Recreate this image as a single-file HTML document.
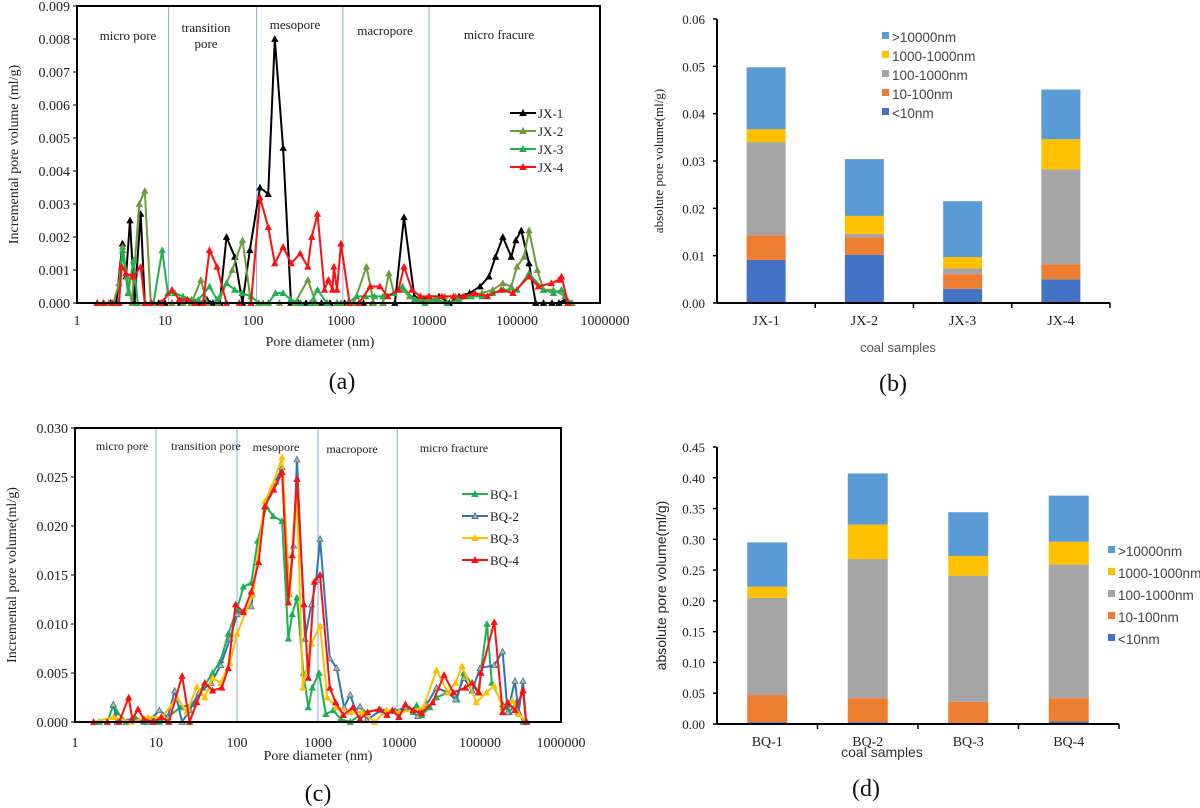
<!DOCTYPE html>
<html><head><meta charset="utf-8"><style>
html,body{margin:0;padding:0;background:#fff;}
svg{display:block;}
.serif{font-family:"Liberation Serif",serif;}
.sans{font-family:"Liberation Sans",sans-serif;}
</style></head><body>
<svg id="fig" width="1200" height="808" viewBox="0 0 1200 808" xmlns="http://www.w3.org/2000/svg"></svg>
<script>
// ---------- panel (a) data ----------
const jx1X=[1.7,2,2.4,2.8,3.28,3.6,4.0,4.5,5.3,5.9,7,8.5,10,12,15,20,24,30,35,42,50,62,76,92,120,149,177,220,270,330,400,500,600,750,900,1100,1400,1800,2300,3000,4100,5200,6800,8500,10000,13000,17000,22000,29000,38000,48000,57000,69000,86000,97000,112000,137000,163000,200000,250000,300000,350000,420000];
const jx1Y=[0,0,0,0,.0018,.0008,.0025,0,.0027,0,0,0,0,0,0,0,0,.0001,0,0,.002,.0014,0,.0016,.0035,.0033,.008,.0047,0,0,0,0,0,0,0,0,0,0,0,0,0,.0026,.0002,.0001,.0002,.0002,0,.0002,.0003,.0005,.0008,.0014,.002,.0014,.0019,.0022,.0012,0,0,0,0,.0001,0];
const jx2X=[1.7,2,2.3,2.6,3.0,3.3,3.7,4.2,5.1,5.9,6.9,9,12,16,20,25.6,30,40,58,76,95,130,200,300,420,520,700,1000,1400,1950,2350,3000,3500,4000,5000,6000,8000,10000,15000,20000,30000,40000,53000,69000,86000,100000,120000,137000,170000,200000,260000,350000,420000];
const jx2Y=[0,0,0,0,.0006,.0017,.0008,0,.003,.0034,0,0,0,0,0,.0007,0,0,.001,.0019,0,0,0,0,.0007,0,0,0,0,.0011,0,0,.0009,.0003,.0004,.0002,.0001,.0001,.0002,.0002,.0002,.0003,.0004,.0006,.0005,.0011,.0014,.0022,.001,.0004,.0004,.0002,0];
const jx3X=[1.7,2,2.5,3.0,3.3,3.8,4.4,4.9,6,7.4,9.3,10.8,13,16,20,24,32,39,50,62,75,95,116,150,180,220,268,350,450,540,690,900,1200,1500,1900,2400,3000,4000,5000,6800,9000,12000,16000,22000,30000,40000,53000,70000,100000,137000,200000,260000,320000,380000];
const jx3Y=[0,0,0,0,.0016,.0003,.0013,0,0,0,.0016,.0003,.0003,.0002,.0001,.0001,.0005,.0001,.0006,.0004,.0003,.0002,0,0,.0003,.0003,.0001,0,0,.0004,0,0,0,.0002,.0002,.0002,.0002,.0003,.0005,.0001,0,.0001,0,.0001,.0002,.0002,.0003,.0004,.0004,.0009,.0004,.0003,.0004,0];
const jx4X=[1.7,2,2.5,3.0,3.2,3.6,4.4,5.3,5.9,7,9,12,14.5,18,22,27,32,39,50,70,95,120,149,177,220,272,344,420,465,540,650,720,800,830,900,1000,1250,1600,2150,2770,3400,4500,5200,6400,8000,10000,14000,19000,25000,33000,46000,66000,90000,137000,175000,245000,300000,320000,380000];
const jx4Y=[0,0,0,0,.0011,.0009,.0008,.0011,0,0,0,.0004,.0001,.0001,0,0,.0016,.0011,0,0,0,.0032,.0023,.0012,.0017,.0012,.0015,.0011,.002,.0027,.0004,.0007,.0004,.0011,.0004,.0018,0,0,.0005,.0005,.0002,.0004,.0011,.0004,.0002,.0002,.0002,.0002,.0002,.0003,.0002,.0004,.0003,.0008,.0005,.0006,.0007,.0008,0];
const aYTicks=["0.000","0.001","0.002","0.003","0.004","0.005","0.006","0.007","0.008","0.009"];
const logTicks=["1","10","100","1000","10000","100000","1000000"];

// ---------- panel (c) data ----------
const bq1X=[1.7,2,2.5,2.97,3.3,4.3,5.5,7,9.3,11,14,20,28,38,50,63,78,100,120,150,180,230,280,360,430,480,550,660,760,850,1030,1250,1540,1900,2500,3700,5700,8800,10000,12000,15000,16500,19000,24000,29000,40000,52000,63000,95000,122000,140000,190000,230000,280000,340000,380000];
const bq1Y=[0,0,0,.0017,.001,0,.0005,0,.0003,0,.0005,.0015,.0018,.0035,.005,.0063,.009,.0115,.0138,.0142,.0185,.022,.021,.0205,.0085,.011,.0127,.005,.0015,.0035,.005,.0008,.0012,.0003,0,.001,.0013,.0011,.0005,.0018,.001,.0017,.0007,.0015,.0025,.003,.0023,.005,.003,.01,.004,.0018,.001,.002,0,0];
const bq2X=[2.97,3.3,5,8,11,14,17,21,26,34,48,63,82,100,150,220,300,360,445,500,550,690,830,950,1060,1400,1700,2100,2500,2900,3300,4000,6000,9000,12000,17000,22000,29000,40000,50000,63000,80000,100000,150000,190000,220000,270000,300000,340000,370000];
const bq2Y=[.0018,0,.0003,0,.0012,.0005,.0032,0,.0012,.003,.004,.0058,.0085,.011,.0118,.022,.0245,.026,.013,.018,.0268,.0085,.012,.0145,.0187,.0065,.0055,.0015,.0028,.0012,.0016,.0002,.0012,.0011,.0015,.0006,.0018,.0035,.003,.0023,.0045,.0032,.0055,.0058,.0072,.001,.0042,.001,.0042,0];
const bq3X=[1.7,3,5,8,12,18,24,32,40,50,63,82,100,157,220,270,360,445,550,650,830,1060,1300,1700,2500,3500,5000,7000,10000,15000,20000,29000,40000,50000,60000,90000,120000,150000,190000,250000,300000,370000];
const bq3Y=[0,.0005,0,.0005,.0005,.0025,.001,.0036,.0025,.0045,.004,.006,.009,.013,.0225,.024,.027,.013,.023,.0035,.008,.0098,.0025,.0015,.001,.001,0,.0012,.001,.0012,.0015,.0053,.003,.004,.0057,.002,.003,.0037,.0015,.0022,.0008,0];
const bq4X=[1.7,2.5,3.5,4.6,5.1,6,7.1,9.3,11.6,14.4,21,26,32,40,50,65,78,96,120,150,185,220,285,360,430,480,550,670,760,900,1060,1400,1650,2050,2700,3300,4100,5700,7100,8300,10000,12000,15000,19000,26000,36000,47000,66000,80000,97000,103000,150000,190000,220000,270000,340000,370000];
const bq4Y=[0,0,0,.0025,.0003,.0013,.0003,0,.0005,0,.0047,0,.002,.004,.0032,.0035,.0055,.012,.0112,.0133,.0163,.022,.0237,.0255,.0122,.017,.0248,.012,.0045,.0143,.015,.0035,.002,.0007,.0015,.0003,.001,.0013,.0007,.0012,.0005,.0018,.0012,.0009,.002,.0048,.003,.0035,.004,.003,.005,.0102,.001,.002,.0012,.0032,0];
const cYTicks=["0.000","0.005","0.010","0.015","0.020","0.025","0.030"];

// ---------- panel (b) data ----------
const bCats=["JX-1","JX-2","JX-3","JX-4"];
const bLt10=[.0091,.0102,.003,.005];
const b10to100=[.0052,.0037,.0031,.0032];
const b100to1000=[.0197,.0007,.0012,.02];
const b1000to10000=[.0027,.0038,.0024,.0064];
const bGt10000=[.0131,.012,.0118,.0105];
const bYTicks=["0.00","0.01","0.02","0.03","0.04","0.05","0.06"];

// ---------- panel (d) data ----------
const dCats=["BQ-1","BQ-2","BQ-3","BQ-4"];
const dLt10=[.003,.003,.001,.004];
const d10to100=[.044,.039,.035,.038];
const d100to1000=[.158,.226,.205,.217];
const d1000to10000=[.018,.056,.032,.037];
const dGt10000=[.072,.083,.071,.075];
const dYTicks=["0.00","0.05","0.10","0.15","0.20","0.25","0.30","0.35","0.40","0.45"];

const segNames=["<10nm","10-100nm","100-1000nm","1000-1000nm",">10000nm"];
const segColors=["#4472c4","#ed7d31","#a5a5a5","#ffc000","#5b9bd5"];

const svg=document.getElementById('fig');
const NS="http://www.w3.org/2000/svg";
function mk(tag,attrs,parent){const e=document.createElementNS(NS,tag);for(const k in attrs)e.setAttribute(k,attrs[k]);(parent||svg).appendChild(e);return e;}
function txt(s,attrs,parent){const e=mk('text',attrs,parent);e.textContent=s;return e;}

function linePanel(cfg){
  const g=mk('g',{});
  
  
  const L=cfg.left,T=cfg.top,R=cfg.right,B=cfg.bottom;
  const xs=d=>L+cfg.dec*Math.log10(d);
  const ys=v=>B-(v/cfg.ymax)*(B-T);
  cfg.bounds.forEach(b=>{
    const l=mk('line',{x1:xs(b),x2:xs(b),y1:T,y2:B,stroke:'#8eaadb','stroke-width':1},g);
    
    
  });
  cfg.regions.forEach(r=>{
    r.lines.forEach((s,i)=>{
      const t=txt(s,{x:r.x,y:r.y+i*16,'text-anchor':'middle','font-size':cfg.regionFs,class:'serif',fill:'#222'},g);
      
      
    });
  });
  cfg.yTicks.forEach((s,i)=>{
    const v=parseFloat(s);
    const t=txt(s,{x:L-7,y:ys(v)+5,'text-anchor':'end','font-size':14,class:'serif',fill:'#222'},g);
    
    
    mk('line',{x1:L-4,x2:L,y1:ys(v),y2:ys(v),stroke:'#000','stroke-width':1},g);
  });
  logTicks.forEach((s,i)=>{
    const t=txt(s,{x:xs(Math.pow(10,i)),y:B+cfg.xlOff,'text-anchor':'middle','font-size':14,class:'serif',fill:'#222'},g);
    
    
  });
  cfg.series.forEach(sr=>{
    const n=Math.min(sr.x.length,sr.y.length);
    let d='';
    for(let i=0;i<n;i++){d+=(i?'L':'M')+xs(sr.x[i]).toFixed(1)+','+ys(sr.y[i]).toFixed(1);}
    const p=mk('path',{d:d,fill:'none',stroke:sr.color,'stroke-width':2,'stroke-linejoin':'round'},g);
    
    
    for(let i=0;i<n;i++){
      const cx=xs(sr.x[i]),cy=ys(sr.y[i]);
      const m=mk('path',{d:`M${cx-3},${cy+2.5}L${cx+3},${cy+2.5}L${cx},${cy-3}Z`,fill:sr.mfill||sr.color,stroke:sr.color,'stroke-width':0.8},g);
      
      
    }
  });
  const f=mk('rect',{x:L,y:T,width:R-L,height:B-T,fill:'none',stroke:'#000','stroke-width':2},g);
  
  
  cfg.series.forEach((sr,i)=>{
    const y=cfg.legY+i*cfg.legDy;
    mk('line',{x1:cfg.legX,x2:cfg.legX+26,y1:y,y2:y,stroke:sr.color,'stroke-width':2},g);
    const cx=cfg.legX+13;
    mk('path',{d:`M${cx-3},${y+2.5}L${cx+3},${y+2.5}L${cx},${y-3}Z`,fill:sr.mfill||sr.color,stroke:sr.color},g);
    const t=txt(sr.label,{x:cfg.legX+28,y:y+5,'font-size':13,class:'serif',fill:'#222'},g);
    
    
  });
  const xt=txt('Pore diameter (nm)',{x:cfg.xtX,y:cfg.xtY,'text-anchor':'middle','font-size':14,class:'serif',fill:'#222'},g);
  
  
  const yt=txt(cfg.ytitle,{x:0,y:0,'text-anchor':'middle','font-size':14,class:'serif',fill:'#222',transform:`translate(${cfg.ytX},${(T+B)/2}) rotate(-90)`},g);
  
  
}

linePanel({name:'chart-a',left:77,top:6,right:600,bottom:303,dec:88,ymax:0.009,yTicks:aYTicks,xlOff:22,
  bounds:[11,110,1050,10000],regionFs:13,
  regions:[{x:128,y:40,lines:['micro pore']},{x:206,y:32,lines:['transition','pore']},{x:295,y:29,lines:['mesopore']},{x:385,y:35,lines:['macropore']},{x:499,y:39,lines:['micro fracure']}],
  series:[{label:'JX-1',x:jx1X,y:jx1Y,color:'#000'},{label:'JX-2',x:jx2X,y:jx2Y,color:'#6f9a3c'},{label:'JX-3',x:jx3X,y:jx3Y,color:'#1fb04f'},{label:'JX-4',x:jx4X,y:jx4Y,color:'#ff1010'}],
  legX:510,legY:113,legDy:18,xtX:320,xtY:346,ytX:18,ytitle:'Incremental  pore volume (ml/g)'});

linePanel({name:'chart-c',left:75,top:428,right:561,bottom:722,dec:81,ymax:0.03,yTicks:cYTicks,xlOff:25,
  bounds:[10,100,1000,9500],regionFs:12,
  regions:[{x:122,y:450,lines:['micro pore']},{x:206,y:450,lines:['transition pore']},{x:276,y:451,lines:['mesopore']},{x:352,y:453,lines:['macropore']},{x:454,y:452,lines:['micro fracture']}],
  series:[{label:'BQ-1',x:bq1X,y:bq1Y,color:'#1fb04f'},{label:'BQ-2',x:bq2X,y:bq2Y,color:'#2e75b6',mfill:'#c9b46a'},{label:'BQ-3',x:bq3X,y:bq3Y,color:'#ffc000'},{label:'BQ-4',x:bq4X,y:bq4Y,color:'#ff1010'}],
  legX:462,legY:494,legDy:22,xtX:318,xtY:760,ytX:16,ytitle:'Incremental  pore volume(ml/g)'});

function barPanel(cfg){
  const g=mk('g',{});
  
  
  const L=cfg.left,R=cfg.right,T=cfg.top,B=cfg.bottom;
  const ys=v=>B-(v/cfg.ymax)*(B-T);
  const cw=(R-L)/cfg.cats.length;
  cfg.cats.forEach((c,i)=>{
    let acc=0;
    const cx=L+cw*(i+0.5);
    cfg.segs.forEach((arr,k)=>{
      const y0=ys(acc),y1=ys(acc+arr[i]);acc+=arr[i];
      const r=mk('rect',{x:cx-cfg.bw/2,y:y1,width:cfg.bw,height:Math.max(0,y0-y1),fill:segColors[k]},g);
      
      
    });
    const t=txt(c,{x:cx,y:B+22,'text-anchor':'middle','font-size':14,class:'serif',fill:'#222'},g);
    
    
    mk('line',{x1:L+cw*(i+1),x2:L+cw*(i+1),y1:B,y2:B+5,stroke:'#000','stroke-width':1.5},g);
  });
  cfg.yTicks.forEach(s=>{
    const v=parseFloat(s);
    mk('line',{x1:L-4,x2:L,y1:ys(v),y2:ys(v),stroke:'#000','stroke-width':1.5},g);
    const t=txt(s,{x:L-12,y:ys(v)+5,'text-anchor':'end','font-size':13,class:'serif',fill:'#222'},g);
    
    
  });
  mk('line',{x1:L,x2:L,y1:T,y2:B,stroke:'#000','stroke-width':2},g);
  mk('line',{x1:L,x2:R,y1:B,y2:B,stroke:'#000','stroke-width':2},g);
  for(let k=4;k>=0;k--){
    const y=cfg.legY+(4-k)*cfg.legDy;
    mk('rect',{x:cfg.legX,y:y-5,width:7,height:7,fill:segColors[k]},g);
    const t=txt(segNames[k],{x:cfg.legX+10,y:y+5,'font-size':13.5,class:'sans',fill:'#444'},g);
    
    
  }
  const xt=txt('coal samples',{x:cfg.xtX,y:cfg.xtY,'text-anchor':'middle','font-size':cfg.xtFs,class:'sans',fill:cfg.xtC},g);
  
  
  const yt=txt('absolute pore volume(ml/g)',{x:0,y:0,'text-anchor':'middle','font-size':cfg.ytFs,class:cfg.ytClass,fill:'#222',transform:`translate(${cfg.ytX},${(T+B)/2}) rotate(-90)`},g);
  
  
}
barPanel({name:'chart-b',left:717,right:1110,top:19,bottom:303,ymax:0.06,cats:bCats,bw:39,
  segs:[bLt10,b10to100,b100to1000,b1000to10000,bGt10000],yTicks:bYTicks,
  legX:882,legY:37,legDy:19,xtX:898,xtY:352,xtFs:13,xtC:'#555',ytX:663,ytFs:13,ytClass:'serif'});
barPanel({name:'chart-d',left:717,right:1119,top:447,bottom:724,ymax:0.45,cats:dCats,bw:40,
  segs:[dLt10,d10to100,d100to1000,d1000to10000,dGt10000],yTicks:dYTicks,
  legX:1108,legY:551,legDy:22,xtX:882,xtY:757,xtFs:14,xtC:'#333',ytX:666,ytFs:14,ytClass:'sans'});

[["(a)",342,389],["(b)",893,391],["(c)",318,801],["(d)",866,796]].forEach(p=>{
  const t=txt(p[0],{x:p[1],y:p[2],'text-anchor':'middle','font-size':24,class:'serif',fill:'#111'});
  
  
});
</script>
</body></html>
